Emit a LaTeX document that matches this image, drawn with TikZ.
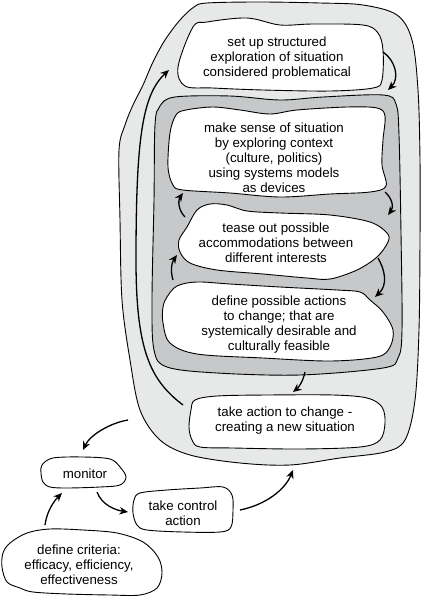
\documentclass[tikz,border=0pt]{standalone}
\usepackage{fontspec}
\setmainfont{Liberation Sans}
\usetikzlibrary{arrows.meta}
\definecolor{lightbg}{RGB}{231,232,232}
\definecolor{darkbg}{RGB}{199,200,201}
\tikzset{
  blob/.style={draw=black, line width=0.9pt, fill=white},
  region/.style={draw=black, line width=0.9pt},
  txt/.style={align=center, inner sep=0pt, font=\fontsize{13.3}{15}\selectfont},
  conn/.style={line width=1.3pt, -{Stealth[length=8.5pt,width=7.5pt]}},
}
\begin{document}
\begin{tikzpicture}[x=1pt,y=-1pt]
\useasboundingbox (0,0) rectangle (426,600);
% outer light region
\draw[region, fill=lightbg] plot[smooth cycle, tension=0.55] coordinates {
 (207,3) (260,2) (320,3) (363,5) (397,15) (412,40) (418,90) (420,160) (420,240) (419,330) (415,400) (405,440) (385,452) (340,458) (290,465) (240,463) (190,455) (160,440) (140,410) (130,360) (122,300) (120,220) (119,150) (125,125) (133,105) (143,85) (153,62) (165,40) (180,20) (194,7)};
% darker region
\draw[region, fill=darkbg] plot[smooth cycle, tension=0.55] coordinates {
 (160,106) (175,97) (230,96) (280,100) (323,97) (383,95) (396,104) (399,135) (401,233) (402,330) (398,358) (383,368) (300,375) (217,373) (167,367) (154,350) (152,300) (154,200) (155,125)};
% blobs
\draw[blob] plot[smooth cycle, tension=0.55] coordinates {
 (193,27) (207,22) (247,18) (280,25) (313,24) (363,25) (378,33) (383,50) (382,80) (373,88) (330,91) (263,90) (213,88) (185,86) (178,67)};
\draw[blob] plot[smooth cycle, tension=0.55] coordinates {
 (186,110) (213,107) (240,110) (270,114) (297,110) (347,107) (377,108) (385,116) (383,140) (382,165) (386,186) (370,192) (330,194) (280,197) (230,193) (183,190) (173,185) (168,167) (170,133) (176,115)};
\draw[blob] plot[smooth cycle, tension=0.55] coordinates {
 (187,227) (197,210) (210,204) (227,205) (247,211) (280,213) (330,215) (370,222) (387,233) (388,242) (377,257) (357,270) (330,279) (307,278) (263,274) (217,270) (190,263) (180,252) (179,240)};
\draw[blob] plot[smooth cycle, tension=0.55] coordinates {
 (167,297) (177,286) (197,282) (230,284) (280,287) (337,290) (360,292) (370,300) (383,312) (393,330) (390,347) (377,357) (330,361) (263,358) (197,354) (170,343) (163,323) (163,307)};
\draw[blob] plot[smooth cycle, tension=0.55] coordinates {
 (195,400) (217,396) (267,395) (333,395) (367,398) (382,407) (385,423) (380,440) (360,447) (300,449) (233,448) (200,447) (192,440) (189,427) (191,410)};
\draw[blob] plot[smooth cycle, tension=0.55] coordinates {
 (42,465) (53,458) (83,457) (110,459) (120,467) (126,477) (120,485) (100,487) (67,488) (50,487) (43,482) (41,473)};
\draw[blob] plot[smooth cycle, tension=0.55] coordinates {
 (134,500) (140,493) (167,490) (200,488) (223,487) (232,495) (233,510) (231,527) (220,532) (183,532) (147,530) (137,525) (133,513)};
\draw[blob] plot[smooth cycle, tension=0.55] coordinates {
 (10,543) (27,533) (50,529) (83,530) (117,533) (143,542) (158,557) (162,573) (157,588) (140,595) (110,595) (67,594) (33,592) (20,588) (7,582) (2,567) (3,553)};
% texts
\node[txt] (setup) at (277,58) {set up structured\\exploration of situation\\considered problematical};
\node[txt] (sense) at (274,158) {make sense of situation\\by exploring context\\(culture, politics)\\using systems models\\as devices};
\node[txt] (tease) at (276,243) {tease out possible\\accommodations between\\different interests};
\node[txt] (define) at (279,325) {define possible actions\\to change; that are\\systemically desirable and\\culturally feasible};
\node[txt] (action) at (285,420.5) {take action to change -\\creating a new situation};
\node[txt] (monitor) at (85,474) {monitor};
\node[txt] (control) at (183,513.5) {take control\\action};
\node[txt] (criteria) at (79,565) {define criteria:\\efficacy, efficiency,\\effectiveness};
% connector end points
\coordinate (la) at (183,405);
\coordinate (lb) at (169,70);
\coordinate (a1) at (128,420);
\coordinate (a2) at (83,450);
\coordinate (b1) at (45,525);
\coordinate (b2) at (62,493);
\coordinate (c1) at (97,492);
\coordinate (c2) at (128,512);
\coordinate (d1) at (240,510);
\coordinate (d2) at (293,470);
\coordinate (e1) at (383,52);
\coordinate (e2) at (388,90);
\coordinate (f1) at (385,192);
\coordinate (f2) at (388,215);
\coordinate (g1) at (378,258);
\coordinate (g2) at (375,297);
\coordinate (h1) at (305,372);
\coordinate (h2) at (293,392);
\coordinate (i1) at (185,217);
\coordinate (i2) at (183,193);
\coordinate (j1) at (173,280);
\coordinate (j2) at (177,255);
% connectors
\draw[conn] (la) .. controls (150,380) and (136,350) .. (136,260) .. controls (136,140) and (142,95) .. (lb);
\draw[conn] (a1) .. controls (110,423) and (90,435) .. (a2);
\draw[conn] (b1) .. controls (47,510) and (55,500) .. (b2);
\draw[conn] (c1) .. controls (102,505) and (115,510) .. (c2);
\draw[conn] (d1) .. controls (265,505) and (285,490) .. (d2);
\draw[conn] (e1) .. controls (395,60) and (400,78) .. (e2);
\draw[conn] (f1) .. controls (392,198) and (394,207) .. (f2);
\draw[conn] (g1) .. controls (385,270) and (388,285) .. (g2);
\draw[conn] (h1) .. controls (303,382) and (298,388) .. (h2);
\draw[conn] (i1) .. controls (178,210) and (178,200) .. (i2);
\draw[conn] (j1) .. controls (170,270) and (172,262) .. (j2);
\end{tikzpicture}
\end{document}
